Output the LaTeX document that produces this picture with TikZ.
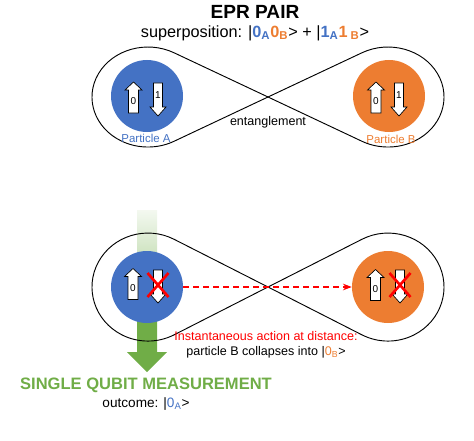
\documentclass[tikz,border=0pt]{standalone}
\usepackage{fontspec}
\setmainfont{Liberation Sans}
\usepackage{tikz}
\usetikzlibrary{positioning, arrows.meta, calc}
\definecolor{qblue}{HTML}{4472C4}
\definecolor{qorange}{HTML}{ED7D31}
\definecolor{qgreen}{HTML}{70AD47}
\definecolor{qred}{HTML}{FF0000}
% coloured qubit with subscript: colour, value, particle
\newcommand{\qbit}[3]{\textcolor{#1}{\textbf{#2}\textsubscript{\textbf{#3}}}}
\newcommand{\qbitn}[3]{\textcolor{#1}{#2\textsubscript{#3}}}
% spin arrows: position, label
\newcommand{\spinup}[2]{%
    \draw[spin] (#1) ++(0,15.5) -- ++(-8.5,-8) -- ++(3.5,0) -- ++(0,-23) -- ++(10,0) -- ++(0,23) -- ++(3.5,0) -- cycle;
    \path (#1) ++(0,-4) node[spinlabel] {#2};
}
\newcommand{\spindown}[2]{%
    \draw[spin] (#1) ++(0,-16.5) -- ++(-8,9) -- ++(3.5,0) -- ++(0,24) -- ++(9,0) -- ++(0,-24) -- ++(3.5,0) -- cycle;
    \path (#1) ++(0,4.5) node[spinlabel] {#2};
}
% red cross over a discarded state
\newcommand{\measx}[1]{%
    \draw[cancel] (#1) ++(-10.5,-12) -- ++(21,24) (#1) ++(-10.5,12) -- ++(21,-24);
}

\begin{document}
\begin{tikzpicture}[
    x=0.75pt, y=0.75pt,
    % GLOBAL CFG
    font=\fontsize{9.4}{11}\selectfont,
    >=Stealth,
    % Styles
    lobe/.style={% the infinity loops
        draw,
        line width=0.7pt,
        },
    particle/.style={% the particles
        circle,
        minimum size=54pt,
        inner sep=0pt,
        },
    spin/.style={% block arrows inside a particle
        draw,
        fill=white,
        line width=0.5pt,
        line join=miter,
        },
    spinlabel/.style={%
        font=\fontsize{7.5}{8}\selectfont,
        inner sep=0pt,
        },
    cancel/.style={% red cross
        qred,
        line width=2pt,
        },
    plabel/.style={% particle names
        font=\fontsize{8.6}{10}\selectfont,
        },
    title/.style={%
        font=\bfseries\fontsize{14.3}{16}\selectfont,
        },
    ]

    \useasboundingbox (0,0) rectangle (474,440);

    % Titles
    \node[title] (epr) at (255,428) {EPR PAIR};
    \node[font=\fontsize{12.2}{14}\selectfont] (sup) at (255,407)
        {superposition: |\qbit{qblue}{0}{A}\qbit{qorange}{0}{B}> + |\qbit{qblue}{1}{A}\qbit{qorange}{1}{\ B}>};

    % Measurement arrow (behind everything)
    \shade[top color=qgreen!8, bottom color=qgreen!55] (137,230) rectangle (157,150);
    \fill[qgreen] (137,152) -- (137,88) -- (127,88) -- (147,68) -- (167,88) -- (157,88) -- (157,152) -- cycle;

    % Top pair: loops and particles
    \coordinate (xT) at (268,343);
    \draw[lobe] (xT) -- ++(-93.9,44.2) arc[start angle=62.2, end angle=297.8, x radius=56, y radius=50] -- cycle;
    \draw[lobe] (xT) -- ++(93.9,44.2) arc[start angle=117.8, end angle=-117.8, x radius=56, y radius=50] -- cycle;
    \node at (268,318) (ent) {entanglement};

    \node[particle, fill=qblue] (pA) at (147,344) {};
    \node[particle, fill=qorange] (pB) at (389,344) {};
    \node[plabel, text=qblue] (lA) at (146,302) {Particle A};
    \node[plabel, text=qorange] (lB) at (391,301) {Particle B};

    \spinup{$(pA)+(-13.5,-1.5)$}{0}
    \spindown{$(pA)+(11,-3.5)$}{1}
    \spinup{$(pB)+(-13,-1.5)$}{0}
    \spindown{$(pB)+(10,-3.5)$}{1}

    % Bottom pair: after the measurement
    \coordinate (xM) at (268,153);
    \draw[lobe] (xM) -- ++(-93.9,47.7) arc[start angle=62.2, end angle=297.8, x radius=56, y radius=54] -- cycle;
    \draw[lobe] (xM) -- ++(93.9,47.7) arc[start angle=117.8, end angle=-117.8, x radius=56, y radius=54] -- cycle;

    \node[particle, fill=qblue] (mA) at (147,153) {};
    \node[particle, fill=qorange] (mB) at (388,153) {};

    \spinup{$(mA)+(-14,3)$}{0}
    \spindown{$(mA)+(11,0.5)$}{}
    \measx{$(mA)+(11,2)$}
    \spinup{$(mB)+(-12.5,2)$}{0}
    \spindown{$(mB)+(12,0.5)$}{}
    \measx{$(mB)+(12,2)$}

    \draw[->, qred, line width=0.8pt, dash pattern=on 4.5pt off 3pt] (mA.east) -- (mB.west);

    % Texts
    \node[text=qred] (act) at (266,104) {Instantaneous action at distance:};
    \node (col) at (266,88) {particle B collapses into |\qbitn{qorange}{0}{B}>};
    \node[font=\bfseries\fontsize{12.4}{14}\selectfont, text=qgreen] (meas) at (146,55) {SINGLE QUBIT MEASUREMENT};
    \node[font=\fontsize{10.2}{12}\selectfont] (out) at (146,36) {outcome: |\qbitn{qblue}{0}{A}>};
\end{tikzpicture}
\end{document}
